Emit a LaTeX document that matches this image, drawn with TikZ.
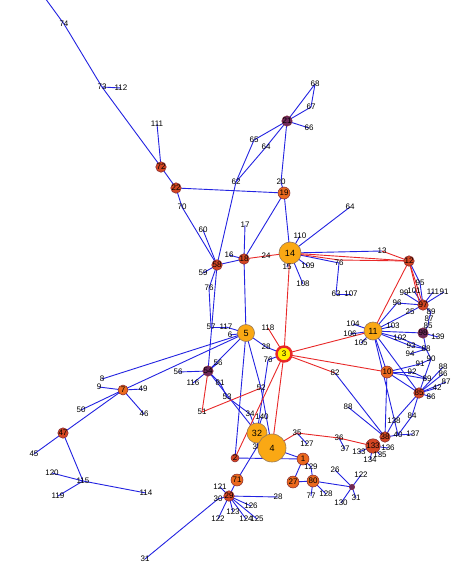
\documentclass[tikz,border=0pt]{standalone}
\usepackage{fontspec}
\setmainfont{Liberation Sans}
\pgfdeclarelayer{bg}
\pgfsetlayers{bg,main}
\definecolor{lblue}{RGB}{35,35,225}
\definecolor{lred}{RGB}{232,40,40}
\definecolor{dotred}{RGB}{212,70,35}
\definecolor{dotedge}{RGB}{130,40,50}
\definecolor{orng}{RGB}{250,168,20}
\definecolor{orngedge}{RGB}{150,120,90}
\definecolor{midor}{RGB}{235,105,30}
\definecolor{purp}{RGB}{110,40,90}
\begin{document}
\begin{tikzpicture}[x=1pt,y=-1pt,
 lb/.style={font=\fontsize{8}{8}\selectfont, inner sep=0pt, text=black},
 dt/.style={circle, inner sep=0pt, minimum size=8pt, fill=dotred, draw=dotedge, line width=0.5pt, font=\fontsize{8}{8}\selectfont},
 sdt/.style={circle, inner sep=0pt, minimum size=5.5pt, fill=purp, draw=dotedge, line width=0.4pt, font=\fontsize{8}{8}\selectfont},
 mid/.style={circle, inner sep=0pt, minimum size=12pt, fill=midor, draw=dotedge, line width=0.5pt, font=\fontsize{8}{8}\selectfont},
 big/.style={circle, inner sep=0pt, minimum size=#1, fill=orng, draw=orngedge, line width=0.6pt, font=\fontsize{9}{9}\selectfont},
 bl/.style={draw=lblue, line width=0.9pt},
 rd/.style={draw=lred, line width=0.9pt}]
\useasboundingbox (0,0) rectangle (474,562);
\coordinate (ntop) at (45,-2);
% nodes
\node[lb] (n74) at (64,24) {74};
\node[lb] (n73) at (102,87) {73};
\node[lb] (n112) at (121,88) {112};
\node[lb] (n111) at (157,124) {111};
\node[dt] (n72) at (161,167) {72};
\node[dt] (n22) at (176,188) {22};
\node[lb] (n62) at (236,182) {62};
\node[lb] (n65) at (254,140) {65};
\node[lb] (n64a) at (266,147) {64};
\node[sdt] (n21) at (287,121) {21};
\node[lb] (n68) at (315,84) {68};
\node[lb] (n67) at (311,107) {67};
\node[lb] (n66) at (309,128) {66};
\node[lb] (n20) at (281,182) {20};
\node[mid] (n19) at (284,193) {19};
\node[lb] (n70) at (182,207) {70};
\node[lb] (n60) at (203,230) {60};
\node[lb] (n17) at (245,225) {17};
\node[lb] (n16) at (229,255) {16};
\node[dt] (n18) at (244,259) {18};
\node[lb] (n24) at (266,256) {24};
\node[dt] (n58) at (217,265) {58};
\node[lb] (n59) at (203,273) {59};
\node[big=22pt] (n14) at (290,253) {14};
\node[lb] (n110) at (300,236) {110};
\node[lb] (n64b) at (350,207) {64};
\node[lb] (n15) at (287,267) {15};
\node[lb] (n109) at (308,266) {109};
\node[lb] (n108) at (303,284) {108};
\node[lb] (n13) at (382,251) {13};
\node[lb] (n76a) at (339,263) {76};
\node[lb] (n63) at (336,294) {63};
\node[lb] (n107) at (351,294) {107};
\node[dt] (n12) at (409,261) {12};
\node[lb] (n78) at (209,288) {76};
\node[lb] (n57) at (211,327) {57};
\node[lb] (n117) at (226,327) {117};
\node[big=17pt] (n5) at (246,333) {5};
\node[lb] (n6) at (230,335) {6};
\node[lb] (n118) at (268,328) {118};
\node[lb] (n28) at (266,347) {28};
\node[circle, inner sep=0pt, minimum size=15pt, fill=yellow, draw=lred, line width=2.4pt, font=\fontsize{8}{9}\selectfont] (n3) at (284,354) {3};
\node[lb] (n76b) at (268,360) {76};
\node[lb] (n55) at (178,372) {56};
\node[sdt] (n54) at (208,371) {54};
\node[lb] (n56) at (218,363) {56};
\node[lb] (n116) at (193,383) {116};
\node[lb] (n81) at (220,383) {81};
\node[lb] (n53) at (227,397) {53};
\node[lb] (n51) at (202,412) {51};
\node[lb] (n52) at (261,388) {52};
\node[lb] (n34) at (250,414) {34};
\node[lb] (n140) at (262,417) {140};
\node[big=20pt] (n32) at (257,433) {32};
\node[lb] (n33) at (257,447) {38};
\node[big=28pt] (n4) at (272,448) {4};
\node[lb] (n35) at (297,433) {35};
\node[lb] (n127) at (307,444) {127};
\node[lb] (n36) at (339,438) {36};
\node[lb] (n37) at (345,449) {37};
\node[dt] (n2) at (235,458) {2};
\node[mid] (n1) at (303,459) {1};
\node[lb] (n129) at (311,467) {129};
\node[mid] (n71) at (237,480) {71};
\node[mid] (n27) at (293,482) {27};
\node[mid] (n80) at (313,481) {80};
\node[lb] (n77) at (311,496) {77};
\node[lb] (n128) at (326,494) {128};
\node[lb] (n26) at (335,470) {26};
\node[lb] (n122b) at (361,475) {122};
\node[sdt] (n132) at (352,487) {};
\node[lb] (n131) at (356,498) {31};
\node[lb] (n130) at (341,503) {130};
\node[dt] (n29) at (229,496) {29};
\node[lb] (n30) at (218,499) {30};
\node[lb] (n121) at (220,487) {121};
\node[lb] (n28b) at (278,497) {28};
\node[lb] (n126) at (251,506) {126};
\node[lb] (n123) at (233,512) {123};
\node[lb] (n122) at (218,519) {122};
\node[lb] (n124) at (246,519) {124};
\node[lb] (n125) at (257,519) {125};
\node[lb] (n31) at (145,559) {31};
\node[lb] (n8) at (102,379) {8};
\node[lb] (n9) at (99,387) {9};
\node[mid, minimum size=10pt] (n7) at (123,390) {7};
\node[lb] (n49) at (143,389) {49};
\node[lb] (n46) at (144,414) {46};
\node[lb] (n50) at (81,410) {50};
\node[dt] (n47) at (63,433) {47};
\node[lb] (n45) at (34,454) {45};
\node[lb] (n120) at (52,473) {120};
\node[lb] (n115) at (83,481) {115};
\node[lb] (n119) at (58,496) {119};
\node[lb] (n114) at (146,493) {114};
% right cluster
\node[lb] (n95) at (420,283) {95};
\node[lb] (n99) at (404,293) {99};
\node[lb] (n101) at (414,291) {101};
\node[lb] (n111b) at (433,292) {111};
\node[lb] (n141) at (444,292) {91};
\node[lb] (n96) at (397,303) {96};
\node[lb] (n25) at (410,312) {25};
\node[dt] (n97) at (423,305) {97};
\node[lb] (n89) at (431,312) {89};
\node[lb] (n87) at (429,319) {87};
\node[lb] (n85a) at (428,326) {85};
\node[sdt] (n98) at (423,333) {98};
\node[lb] (n139) at (438,337) {139};
\node[big=18pt] (n11) at (373,331) {11};
\node[lb] (n104) at (353,324) {104};
\node[lb] (n106) at (350,334) {106};
\node[lb] (n105) at (361,343) {105};
\node[lb] (n103) at (393,326) {103};
\node[lb] (n102) at (400,338) {102};
\node[lb] (n93) at (411,346) {93};
\node[lb] (n94) at (410,354) {94};
\node[lb] (n88a) at (426,349) {88};
\node[lb] (n90) at (431,359) {90};
\node[lb] (n91) at (420,364) {91};
\node[mid] (n10) at (387,372) {10};
\node[lb] (n92) at (412,372) {92};
\node[lb] (n89b) at (427,379) {89};
\node[lb] (n88b) at (443,367) {88};
\node[lb] (n86b) at (443,374) {86};
\node[lb] (n87b) at (446,382) {87};
\node[lb] (n42) at (437,388) {42};
\node[dt] (n85) at (419,393) {85};
\node[lb] (n86) at (431,397) {86};
\node[lb] (n82) at (335,373) {82};
\node[lb] (n83) at (348,407) {88};
\node[lb] (n138) at (394,421) {138};
\node[lb] (n84) at (412,416) {84};
\node[lb] (n137) at (413,434) {137};
\node[lb] (n40) at (398,435) {40};
\node[dt] (n38) at (385,437) {38};
\node[dt] (n133) at (373,446) {133};
\node[lb] (n134) at (370,460) {134};
\node[lb] (n135a) at (359,452) {133};
\node[lb] (n135) at (380,455) {135};
\node[lb] (n136) at (388,448) {136};
\begin{pgfonlayer}{bg}
\fill[white] (0,0) rectangle (474,562);
\draw[bl] (ntop) -- (n74.center);
\foreach \a/\b in {74/73, 73/112, 73/72, 111/72, 72/22, 22/70, 70/58, 22/19, 21/68, 21/67, 67/68, 21/66, 21/65, 21/64a, 64a/62, 65/62, 62/58, 21/20, 20/19, 19/14, 19/18, 60/58, 17/18, 16/18, 58/59, 58/18, 58/78, 78/57, 58/54, 57/117, 117/5, 18/5, 14/110, 14/64b, 14/15, 14/109, 14/108, 14/13, 14/76a, 76a/63, 63/107, 12/95, 97/95, 97/99, 97/101, 97/111b, 97/141, 97/96, 97/25, 97/89, 89/87, 87/85a, 85a/98, 98/139, 11/104, 11/106, 11/105, 11/103, 11/96, 11/25, 11/102, 11/93, 11/98, 11/10, 11/85, 11/40, 102/88a, 93/88a, 94/88a, 88a/90, 90/91, 91/10, 10/92, 92/89b, 10/89b, 10/85, 10/38, 85/88b, 85/86b, 85/87b, 85/42, 85/86, 85/84, 84/40, 85/138, 90/85, 98/88a, 82/38, 83/38, 138/38, 40/137, 38/40, 133/134, 133/135, 133/136, 133/135a, 36/37, 35/127, 3/28, 28/5, 3/76b, 76b/32, 54/55, 54/56, 54/116, 54/81, 81/53, 53/34, 54/32, 5/54, 6/5, 5/8, 5/7, 9/7, 7/49, 7/46, 7/50, 7/47, 47/45, 47/115, 115/120, 115/119, 115/114, 5/2, 5/52, 52/4, 34/32, 140/32, 32/33, 33/4, 2/1, 4/1, 71/29, 71/33, 1/27, 1/129, 129/80, 27/80, 80/77, 80/128, 80/132, 132/26, 132/122b, 132/130, 132/131, 29/30, 30/31, 29/121, 29/28b, 29/126, 29/123, 29/122, 29/124, 29/125}
  \draw[bl] (n\a.center) -- (n\b.center);
\foreach \a/\b in {18/24, 24/14, 13/12, 14/12, 14/3, 12/11, 12/97, 3/118, 3/11, 3/10, 3/82, 3/4, 3/2, 51/52, 54/51, 4/35, 35/36, 36/133}
  \draw[rd] (n\a.center) -- (n\b.center);
\draw[rd] (n14.center) -- ([yshift=3pt]n76a.center) -- (n12.center);
\draw[rd] (n12.center) -- ([xshift=-3pt]n97.center);
\end{pgfonlayer}
\end{tikzpicture}
\end{document}
